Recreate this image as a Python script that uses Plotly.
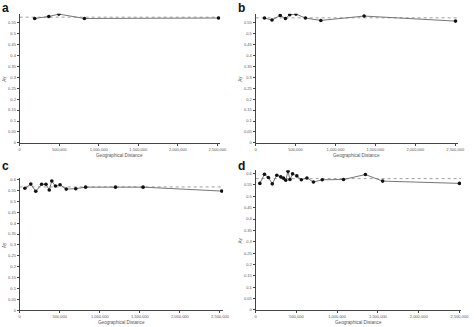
import plotly.graph_objects as go

# Mean Ay as a function of geographical distance class, four panels (a-d)
a_dist = [190000, 368000, 496000, 819000, 2515000]
a_ay = [0.568, 0.577, 0.588, 0.568, 0.570]
a_mean = 0.574

b_dist = [111000, 205000, 308000, 374000, 427000, 505000, 624000, 817000, 1359000, 2504000]
b_ay = [0.570, 0.561, 0.582, 0.568, 0.585, 0.588, 0.570, 0.559, 0.579, 0.556]
b_mean = 0.571

c_dist = [65000, 139000, 201000, 274000, 328000, 369000, 401000, 446000, 504000,
          581000, 700000, 823000, 1196000, 1540000, 2522000]
c_ay = [0.560, 0.579, 0.546, 0.578, 0.578, 0.552, 0.593, 0.570, 0.576,
        0.556, 0.558, 0.565, 0.565, 0.565, 0.547]
c_mean = 0.566

d_dist = [52000, 108000, 156000, 204000, 260000, 308000, 341000, 369000, 397000, 421000,
          453000, 505000, 561000, 629000, 709000, 817000, 1078000, 1346000, 1558000, 2500000]
d_ay = [0.557, 0.597, 0.583, 0.555, 0.593, 0.586, 0.580, 0.571, 0.610, 0.574,
        0.599, 0.590, 0.573, 0.581, 0.563, 0.573, 0.574, 0.596, 0.567, 0.557]
d_mean = 0.578

x_ticks = [0, 500000, 1000000, 1500000, 2000000, 2500000]
x_ticktext = ["0", "500,000", "1,000,000", "1,500,000", "2,000,000", "2,500,000"]
y_ticks = [0, 0.05, 0.1, 0.15, 0.2, 0.25, 0.3, 0.35, 0.4, 0.45, 0.5, 0.55, 0.6]
y_ticktext = ["0", "0.05", "0.1", "0.15", "0.2", "0.25", "0.3", "0.35", "0.4",
              "0.45", "0.5", "0.55", "0.6"]

panel_labels = ["a", "b", "c", "d"]
x_title = "Geographical Distance"
y_title = "Ay"

W, H = 474, 327

# panel geometry in pixels: (left, right, bottom, top) and axis ranges
panels = [
    dict(x=a_dist, y=a_ay, m=a_mean, px=(19, 223), py=(142.7, 11.8), xr=2537000, yr=0.59, yt=0.55),
    dict(x=b_dist, y=b_ay, m=b_mean, px=(259, 465), py=(142.7, 11.8), xr=2537000, yr=0.59, yt=0.55),
    dict(x=c_dist, y=c_ay, m=c_mean, px=(19, 226), py=(312.3, 178.6), xr=2540000, yr=0.605, yt=0.6),
    dict(x=d_dist, y=d_ay, m=d_mean, px=(259, 468), py=(311.7, 170.3), xr=2520000, yr=0.615, yt=0.6),
]

fig = go.Figure()
annotations = []
tick_font = dict(family="Liberation Sans, Arial, sans-serif", size=4, color="#555555")
title_font = dict(family="Liberation Sans, Arial, sans-serif", size=4.6, color="#555555")

for i, p in enumerate(panels):
    k = "" if i == 0 else str(i + 1)
    xa, ya = "x" + k, "y" + k
    # dotted mean reference line across the whole distance axis
    fig.add_trace(go.Scatter(
        x=[0, p["xr"]], y=[p["m"], p["m"]], mode="lines",
        line=dict(color="#888888", width=0.8, dash="dot"),
        xaxis=xa, yaxis=ya, showlegend=False, hoverinfo="skip"))
    fig.add_trace(go.Scatter(
        x=p["x"], y=p["y"], mode="lines+markers",
        line=dict(color="#666666", width=0.9),
        marker=dict(color="#111111", size=3.6, symbol="circle"),
        xaxis=xa, yaxis=ya, showlegend=False))

    xd = [p["px"][0] / W, p["px"][1] / W]
    yd = [1 - p["py"][0] / H, 1 - p["py"][1] / H]
    nt = [t for t in y_ticks if t <= p["yt"] + 1e-9]
    fig.update_layout(**{
        "xaxis" + k: dict(
            domain=xd, anchor=ya, range=[0, p["xr"]], showgrid=False, zeroline=False,
            showline=True, linecolor="#444444", linewidth=1,
            ticks="outside", ticklen=2, tickwidth=0.8, tickcolor="#444444",
            tickvals=x_ticks, ticktext=x_ticktext, tickfont=tick_font),
        "yaxis" + k: dict(
            domain=yd, anchor=xa, range=[0, p["yr"]], showgrid=False, zeroline=False,
            showline=True, linecolor="#444444", linewidth=1,
            ticks="outside", ticklen=2, tickwidth=0.8, tickcolor="#444444",
            tickvals=nt, ticktext=y_ticktext[:len(nt)], tickfont=tick_font),
    })

    # axis titles
    cx = (p["px"][0] + p["px"][1]) / 2
    annotations.append(dict(
        text=x_title, x=cx / W, y=1 - (p["py"][0] + 12.5) / H, xref="paper", yref="paper",
        showarrow=False, font=title_font, xanchor="center", yanchor="middle"))
    annotations.append(dict(
        text=y_title, x=(p["px"][0] - 15.5) / W, y=1 - ((p["py"][0] + p["py"][1]) / 2) / H,
        xref="paper", yref="paper", showarrow=False, font=title_font, textangle=-90,
        xanchor="center", yanchor="middle"))
    # panel letter
    lx = 5 if i % 2 == 0 else 245
    ly = 6 if i < 2 else 166
    annotations.append(dict(
        text="<b>" + panel_labels[i] + "</b>", x=lx / W, y=1 - ly / H, xref="paper", yref="paper",
        showarrow=False, font=dict(family="Liberation Sans, Arial, sans-serif", size=12, color="#111111"),
        xanchor="center", yanchor="middle"))

fig.update_layout(
    width=W, height=H, margin=dict(l=0, r=0, t=0, b=0),
    paper_bgcolor="white", plot_bgcolor="white",
    annotations=annotations,
)

fig.write_html("out.html")
